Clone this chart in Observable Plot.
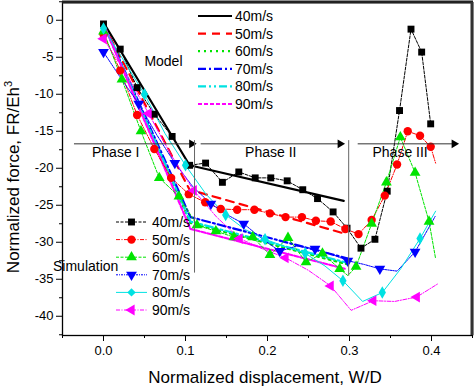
<!DOCTYPE html>
<html><head><meta charset="utf-8">
<script src="https://cdn.jsdelivr.net/npm/d3@7"></script>
<script src="https://cdn.jsdelivr.net/npm/@observablehq/plot@0.6"></script>
<style>body{margin:0;background:#fff} svg{font-family:"Liberation Sans",Arial,sans-serif}</style>
</head><body><div id="chart"></div>
<script>
// ---- categories ----
const speeds = ["40m/s","50m/s","60m/s","70m/s","80m/s","90m/s"];
const colors = ["#000000","#ff0000","#00e400","#0000ff","#00e2e2","#ff00ff"];

// ---- simulation series (x = W/D, y = FR/Eh^3, m = 1 marker drawn) ----
const sim40X = [0,0.0204,0.041,0.062,0.0837,0.105,0.1245,0.145,0.165,0.185,0.204,0.224,0.243,0.261,0.280,0.297,0.314,0.331,0.346,0.361,0.375,0.388,0.399];
const sim40Y = [-0.5,-3.9,-9.1,-12.7,-15.7,-19.6,-19.3,-21.9,-20.5,-21.3,-21.3,-21.7,-22.9,-24.1,-25.9,-28.1,-30.8,-29.6,-23.1,-12.2,-1.2,-4.3,-14.0];
const sim40M = sim40X.map(() => 1);

const sim50X = [0,0.0204,0.041,0.062,0.0825,0.104,0.124,0.143,0.163,0.184,0.203,0.222,0.242,0.259,0.277,0.295,0.311,0.327,0.343,0.358,0.371,0.386,0.399,0.405];
const sim50Y = [-1.9,-6.8,-12.8,-17.4,-21.3,-23.5,-24.6,-25.5,-25.6,-25.6,-26.1,-26.6,-26.6,-27.1,-27.2,-28.2,-28.9,-27.0,-23.7,-19.5,-15.0,-15.6,-17.1,-19.3];
const sim50M = [1,1,1,1,1,1,1,1,1,1,1,1,1,1,1,1,1,1,1,1,1,1,1,0];

const sim60X = [0,0.0225,0.0457,0.068,0.092,0.114,0.137,0.159,0.182,0.203,0.225,0.247,0.267,0.288,0.298,0.308,0.327,0.345,0.362,0.380,0.397,0.405];
const sim60Y = [-1.5,-8.0,-15.0,-21.3,-23.8,-27.7,-28.5,-29.3,-29.3,-31.7,-29.4,-32.7,-31.5,-33.6,-34.5,-33.3,-27.5,-21.9,-15.8,-20.6,-27.2,-32.2];
const sim60M = [1,1,1,1,1,1,1,1,1,1,1,1,1,1,0,1,1,1,1,1,1,0];

const sim70X = [0,0.021,0.043,0.065,0.087,0.109,0.131,0.151,0.171,0.193,0.215,0.236,0.258,0.278,0.298,0.318,0.337,0.358,0.380,0.405];
const sim70Y = [-4.3,-7.8,-11.3,-15.5,-19.3,-22.5,-24.8,-26.3,-27.5,-29.5,-31.2,-30.5,-30.9,-31.6,-32.5,-33.0,-33.6,-33.9,-31.3,-26.4];
const sim70M = [1,0,1,0,1,0,1,0,1,0,1,0,1,0,1,0,1,0,1,0];

const sim80X = [0,0.025,0.05,0.075,0.1,0.125,0.149,0.173,0.197,0.222,0.246,0.27,0.292,0.316,0.340,0.363,0.386,0.405];
const sim80Y = [-1.1,-5.5,-10.0,-15.3,-19.6,-23.5,-26.3,-28.3,-29.6,-30.6,-31.5,-33.2,-35.2,-38.0,-36.8,-33.5,-29.5,-25.8];
const sim80M = [1,0,1,0,1,0,1,0,1,0,1,0,1,0,1,0,1,0];

const sim90X = [0,0.028,0.055,0.083,0.110,0.138,0.166,0.194,0.222,0.25,0.277,0.302,0.329,0.355,0.382,0.408];
const sim90Y = [-2.5,-7.3,-12.6,-18.3,-23.0,-26.6,-29.5,-30.9,-32.1,-33.8,-35.9,-39.2,-37.9,-38.0,-37.4,-35.6];
const sim90M = [1,0,1,0,1,0,1,0,1,0,1,0,1,0,1,0];

// ---- model series (Phase I + Phase II) ----
const model40X = [0,0.105,0.293],  model40Y = [-0.3,-19.6,-24.4];
const model50X = [0,0.105,0.293],  model50Y = [-0.6,-22.9,-28.8];
const model60X = [0,0.106,0.298],  model60Y = [-0.5,-27.4,-33.0];
const model70X = [0,0.106,0.298],  model70Y = [-0.5,-26.6,-32.2];
const model80X = [0,0.106,0.298],  model80Y = [-0.5,-27.2,-32.8];
const model90X = [0,0.106,0.295],  model90Y = [-0.5,-28.2,-33.6];

// ---- annotations ----
const phaseLabels = ["Phase I","Phase II","Phase III"];
const phaseX1 = [-0.036,0.1185,0.310];
const phaseX2 = [0.110,0.291,0.430];
const phaseArrowY = -16.7;
const phaseLabelX = [0.0149,0.204,0.3617];
const phaseLabelY = -17.9;
const boundaryX = [0.111,0.299];
const boundaryTop = [-16.2,-16.2];
const boundaryBottom = [-34.1,-34.5];
const modelNote = {text:"Model", x:0.0731, y:-5.55};
const simNote = {text:"Simulation", x:-0.0616, y:-33.3};

// ---- ticks ----
const xTicks = [0,0.1,0.2,0.3,0.4];
const xMinor = [-0.05,0.05,0.15,0.25,0.35,0.45];
const yTicks = [0,-5,-10,-15,-20,-25,-30,-35,-40];
const yMinor = [2.5,-2.5,-7.5,-12.5,-17.5,-22.5,-27.5,-32.5,-37.5,-42.5];

// ---- build tables ----
const simXs = [sim40X,sim50X,sim60X,sim70X,sim80X,sim90X];
const simYs = [sim40Y,sim50Y,sim60Y,sim70Y,sim80Y,sim90Y];
const simMs = [sim40M,sim50M,sim60M,sim70M,sim80M,sim90M];
const modelXs = [model40X,model50X,model60X,model70X,model80X,model90X];
const modelYs = [model40Y,model50Y,model60Y,model70Y,model80Y,model90Y];

const simDash = ["3,1.5","4,1.5,1,1.5","3,1.5","2,1,1,1",null,"4,1.5,1,1.5"];
const modelDash = [null,"8,6","2,4","8,3,2,3","8,3,2,3,2,3","4,2"];
const symbols = ["square","circle","triangle","triangle","diamond","triangle"];
const rotates = [0,0,0,180,0,-90];
const radii = [3.9,4.2,4.0,4.0,3.8,4.0];

const simRows = speeds.map((s,i) => simXs[i].map((x,j) => ({s, i, x, y: simYs[i][j], m: simMs[i][j]})));
const modelRows = speeds.map((s,i) => modelXs[i].map((x,j) => ({s, i, x, y: modelYs[i][j]})));
const phaseRows = phaseLabels.map((t,i) => ({t, x1: phaseX1[i], x2: phaseX2[i], y: phaseArrowY, lx: phaseLabelX[i], ly: phaseLabelY}));
const boundRows = boundaryX.map((x,i) => ({x, y1: boundaryTop[i], y2: boundaryBottom[i]}));

const marks = [];
speeds.forEach((s,i) => {
  marks.push(Plot.line(modelRows[i], {x:"x", y:"y", stroke: colors[i], strokeWidth: 2.2, strokeDasharray: modelDash[i] || undefined}));
});
speeds.forEach((s,i) => {
  marks.push(Plot.line(simRows[i], {x:"x", y:"y", stroke: colors[i], strokeWidth: 1, strokeDasharray: simDash[i] || undefined}));
});
speeds.forEach((s,i) => {
  marks.push(Plot.dot(simRows[i].filter(d => d.m), {x:"x", y:"y", symbol: symbols[i], rotate: rotates[i], r: radii[i], fill: colors[i], stroke: "none"}));
});
marks.push(
  Plot.link(phaseRows, {x1:"x1", x2:"x2", y1:"y", y2:"y", stroke:"#333", strokeWidth:1}),
  Plot.dot(phaseRows, {x:"x2", y:"y", symbol:"triangle", rotate:90, r:3.2, fill:"#000", dx:-2}),
  Plot.link(boundRows, {x1:"x", x2:"x", y1:"y1", y2:"y2", stroke:"#666", strokeWidth:1}),
  Plot.text(phaseRows, {x:"lx", y:"ly", text:"t", fontSize:14, fill:"#000"}),
  Plot.text([modelNote], {x:"x", y:"y", text:"text", fontSize:14, fill:"#000"}),
  Plot.text([simNote], {x:"x", y:"y", text:"text", fontSize:14, fill:"#000", textAnchor:"start"}),
  Plot.axisX({ticks: xTicks, tickFormat: d => d.toFixed(1), tickSize: 6, tickPadding: 4, fontSize: 13, label: null}),
  Plot.axisX({ticks: xMinor, tickFormat: () => "", tickSize: 3, label: null}),
  Plot.axisY({ticks: yTicks, tickFormat: d => String(d), tickSize: 6, tickPadding: 3, fontSize: 13, label: null}),
  Plot.axisY({ticks: yMinor, tickFormat: () => "", tickSize: 3, label: null}),
  Plot.frame({stroke:"#000", strokeWidth:1.3})
);

const plot = Plot.plot({
  width: 474, height: 389,
  marginLeft: 62, marginRight: 2, marginTop: 2, marginBottom: 54,
  style: {fontFamily: '"Liberation Sans", Arial, sans-serif', fontSize: "13px", color: "#000", background: "#fff", overflow: "visible"},
  x: {domain: [-0.05, 0.45]},
  y: {domain: [-42.6, 2.4]},
  marks
});
document.getElementById("chart").appendChild(plot);

// ---- decorations: thick top/right border, titles and legends ----
const svg = d3.select(plot);
const xr = plot.scale("x").range, yr = plot.scale("y").range;
const pLeft = Math.min(...xr), pRight = Math.max(...xr), pTop = Math.min(...yr), pBottom = Math.max(...yr);
svg.append("line").attr("x1", pLeft).attr("x2", pRight + 1).attr("y1", pTop).attr("y2", pTop).attr("stroke", "#222").attr("stroke-width", 3);
svg.append("line").attr("x1", pRight).attr("x2", pRight).attr("y1", pTop).attr("y2", pBottom).attr("stroke", "#333").attr("stroke-width", 3);

svg.append("text").attr("x", 265).attr("y", 383).attr("text-anchor", "middle").attr("font-size", 17).attr("fill", "#000")
  .text("Normalized displacement, W/D");
const yt = svg.append("text").attr("transform", "translate(19,177) rotate(-90)").attr("text-anchor", "middle").attr("font-size", 17).attr("fill", "#000");
yt.append("tspan").text("Normalized force, FR/Eh");
yt.append("tspan").attr("dy", -7).attr("font-size", 11).text("3");

const symType = {square: d3.symbolSquare, circle: d3.symbolCircle, triangle: d3.symbolTriangle, diamond: d3.symbolDiamond2};
// model legend
speeds.forEach((s,i) => {
  const y = 16 + i * 17.6;
  const g = svg.append("g");
  g.append("line").attr("x1", 198).attr("x2", 232).attr("y1", y).attr("y2", y).attr("stroke", colors[i]).attr("stroke-width", 2.2)
    .attr("stroke-dasharray", modelDash[i]);
  g.append("text").attr("x", 235).attr("y", y).attr("dy", "0.35em").attr("text-anchor", "start").attr("font-size", 14).attr("fill", "#000").text(s);
});
// simulation legend
speeds.forEach((s,i) => {
  const y = 222 + i * 17.6;
  const g = svg.append("g");
  g.append("line").attr("x1", 116).attr("x2", 147).attr("y1", y).attr("y2", y).attr("stroke", colors[i]).attr("stroke-width", 1)
    .attr("stroke-dasharray", simDash[i]);
  g.append("path").attr("d", d3.symbol().type(symType[symbols[i]]).size(Math.PI * radii[i] * radii[i])())
    .attr("transform", `translate(131.5,${y}) rotate(${rotates[i]})`).attr("fill", colors[i]);
  g.append("text").attr("x", 152).attr("y", y).attr("dy", "0.35em").attr("text-anchor", "start").attr("font-size", 14).attr("fill", "#000").text(s);
});
</script>
</body></html>
